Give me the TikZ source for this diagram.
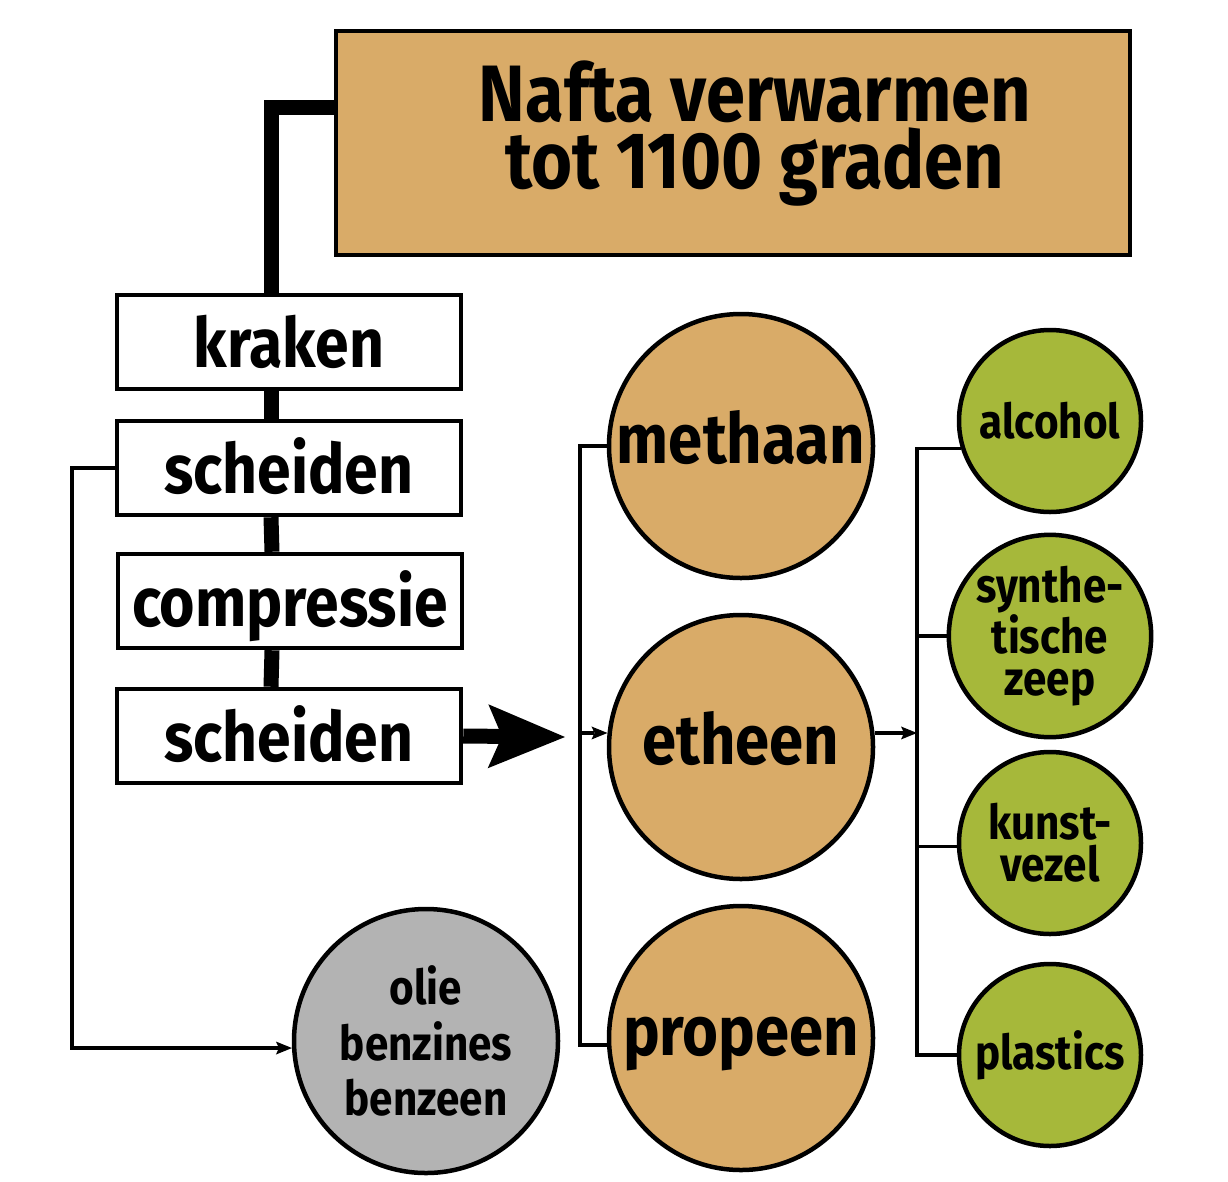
\documentclass[tikz,border=0pt]{standalone}
\usepackage{fontspec}
\setmainfont{Fira Sans}[FakeStretch=0.88]
\usetikzlibrary{arrows.meta,calc}
\definecolor{tanc}{RGB}{217,171,104}
\definecolor{olivec}{RGB}{166,184,58}
\definecolor{greyc}{RGB}{179,179,179}
\begin{document}
\begin{tikzpicture}[x=1pt,y=-1pt,
  topbox/.style={draw, line width=4.5pt, fill=tanc, minimum width=794pt, minimum height=224pt, inner sep=0pt, align=center, text depth=36pt, font=\fontsize{80}{67}\selectfont\bfseries},
  stepbox/.style={draw, line width=4.5pt, fill=white, minimum width=344pt, minimum height=94pt, inner sep=0pt, text height=50pt, text depth=0pt, font=\fontsize{69}{70}\selectfont\bfseries},
  bigc/.style={circle, draw, line width=4.5pt, fill=tanc, minimum size=264pt, inner sep=0pt, text height=34pt, text depth=0pt, font=\fontsize{70}{70}\selectfont\bfseries},
  greyball/.style={circle, draw, line width=4.5pt, fill=greyc, minimum size=264pt, inner sep=0pt, align=center, font=\fontsize{48}{55.5}\selectfont\bfseries},
  smallc/.style={circle, draw, line width=4.5pt, fill=olivec, minimum size=182pt, inner sep=0pt, align=center, font=\fontsize{48}{42}\selectfont\bfseries},
  thickline/.style={line width=15pt},
  conn/.style={line width=3.5pt},
  tip/.style={-{Stealth[length=16pt,width=13pt,inset=3pt,line width=0pt]}},
  bigtip/.style={-{Stealth[length=77pt,width=64pt,inset=14pt,line width=0pt]}}
]
\fill[white] (0,0) rectangle (1228,1181);
\useasboundingbox (0,0) rectangle (1228,1181);

% nodes
\node[topbox] (top) at (733,143) {\hspace*{44pt}Nafta verwarmen\\\hspace*{44pt}tot 1100 graden};
\node[stepbox] (kr) at (289,342) {kraken};
\node[stepbox] (s1) at (289,468) {scheiden};
\node[stepbox] (cp) at (290,601) {compressie};
\node[stepbox] (s2) at (289,736) {scheiden};

\node[bigc] (meth) at (741,446) {methaan};
\node[bigc] (eth) at (741,747) {etheen};
\node[bigc] (prop) at (741,1038) {propeen};

\node[greyball] (grey) at (426,1041) {olie\\benzines\\benzeen};

\node[smallc] (alc) at (1050,421) {alcohol};
\node[smallc] (syn) at (1050,636) {synthe-\\tische\\zeep};
\node[smallc] (kun) at (1050,843) {kunst-\\vezel};
\node[smallc] (pla) at (1050,1055) {plastics};

\coordinate (bx) at (580,0);
\coordinate (rx) at (917,0);

% thick chain
\draw[thickline] ([yshift=36pt]top.west) -| ([xshift=-18pt]kr.north);
\draw[thickline] ([xshift=-18pt]kr.south) -- ([xshift=-18pt]s1.north);
\draw[thickline] ([xshift=-18pt]s1.south) -- ([xshift=-18pt]cp.north);
\draw[thickline] ([xshift=-18pt]cp.south) -- ([xshift=-18pt]s2.north);

% big arrow
\coordinate (bigend) at (565,737);
\draw[line width=15pt, bigtip] (s2.east) -- (bigend);

% left feedback to grey
\draw[conn, tip] (s1.west) -- ++(-43,0) |- (grey.183);

% left bracket
\draw[conn] (meth.west) -- (meth.west -| bx) -- (prop.183 -| bx) -- (prop.183);
\draw[conn, tip] (eth.174 -| bx) -- (eth.174);

% right bracket
\draw[conn, tip] (eth.6) -- (eth.6 -| rx);
\draw[conn] (alc.197) -- (alc.197 -| rx) -- (pla.west -| rx) -- (pla.west);
\draw[conn] (syn.west -| rx) -- (syn.west);
\draw[conn] (kun.182 -| rx) -- (kun.182);
\end{tikzpicture}
\end{document}
